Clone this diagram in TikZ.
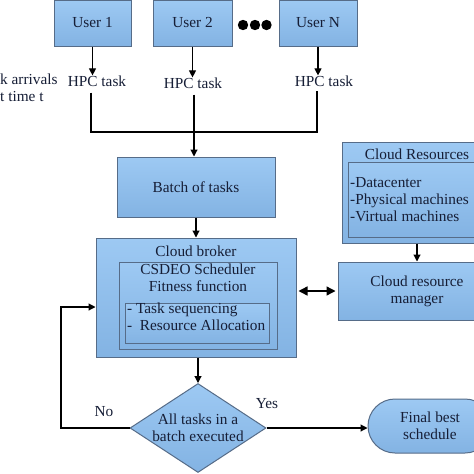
\documentclass[tikz,border=0pt]{standalone}
\usepackage{fontspec}
\setmainfont{Liberation Serif}
\usetikzlibrary{arrows.meta,shapes.geometric}
\definecolor{btop}{HTML}{9DC9F3}
\definecolor{bbot}{HTML}{83B3E3}
\definecolor{bline}{HTML}{566C88}
\definecolor{txt}{HTML}{161E36}
\tikzset{
  blk/.style={draw=bline, line width=1pt, top color=btop, bottom color=bbot, inner sep=0pt, text=txt, font=\fontsize{15.3}{16.8}\selectfont, align=center},
  plain/.style={inner sep=0pt, text=txt, font=\fontsize{15.3}{16.8}\selectfont, align=center},
  arr/.style={line width=1.1pt, -{Triangle[length=7pt,width=7pt]}},
  ln/.style={line width=1.1pt},
  dbl/.style={line width=1.4pt, {Triangle[length=9pt,width=9pt]}-{Triangle[length=9pt,width=9pt]}},
}
\begin{document}
\begin{tikzpicture}[x=1pt,y=-1pt]
\useasboundingbox (0,0) rectangle (474,474);
\clip (0,0) rectangle (474,474);
\fill[white] (0,0) rectangle (474,474);
% users
\node[blk, minimum width=77pt, minimum height=46pt] (u1) at (92.5,23) {User 1};
\node[blk, minimum width=79pt, minimum height=46pt] (u2) at (192.5,23) {User 2};
\node[blk, minimum width=78pt, minimum height=46pt] (uN) at (318,23) {User N};
\fill[black] (243,25) circle (5.2) (255,25) circle (5.2) (266.5,25) circle (5.2);
% HPC tasks
\node[plain] (h1) at (97,81) {HPC task};
\node[plain] (h2) at (193,83) {HPC task};
\node[plain] (hN) at (324,81) {HPC task};
\node[plain, anchor=west, align=left] (arrv) at (0,88) {k arrivals\\t time t};
\draw[arr] (u1.south) -- (u1.south |- h1.north);
\draw[arr] (u2.south) -- (u2.south |- h2.north);
\draw[arr] (uN.south) -- (uN.south |- hN.north);
\coordinate (jn) at (194,132);
\draw[ln] ([yshift=-6pt]h1.south -| 91,0) -- (91,132) -- (317,132) -- ([yshift=-4pt]hN.south -| 317,0);
\draw[ln] ([yshift=-6pt]h2.south -| jn) -- (jn);
% batch
\node[blk, minimum width=158pt, minimum height=60pt] (batch) at (196,187) {Batch of tasks};
\draw[arr] (jn) -- (jn |- batch.north);
% broker
\node[blk, minimum width=200pt, minimum height=119pt] (broker) at (196,297.5) {};
\node[plain] (brt) at (196,251) {Cloud broker};
\node[blk, minimum width=158pt, minimum height=87pt] (csd) at (198,305.5) {};
\node[plain] (csdt) at (198,278) {CSDEO Scheduler\\Fitness function};
\node[blk, minimum width=144pt, minimum height=40pt] (inner) at (197,323) {};
\node[plain, anchor=west, align=left] (innt) at (127,317) {- Task sequencing\\-\ \ Resource Allocation};
\draw[arr] (batch.south -| 196,0) -- (broker.north);
% cloud resources
\node[blk, minimum width=150pt, minimum height=101pt] (res) at (417,192.5) {};
\node[plain] (rest) at (417,154) {Cloud Resources};
\node[blk, minimum width=128pt, minimum height=75pt] (resin) at (412,199.5) {};
\node[plain, anchor=west, align=left] (resint) at (350,199.5) {-Datacenter\\-Physical machines\\-Virtual machines};
% manager
\node[blk, minimum width=158pt, minimum height=58pt] (mgr) at (417,291) {Cloud resource\\manager};
\draw[arr] (res.south) -- (mgr.north);
\draw[dbl] ([xshift=2pt]broker.east |- mgr) -- ([xshift=-2pt]mgr.west);
% decision
\node[diamond, draw=bline, line width=1pt, top color=btop, bottom color=bbot, minimum width=136pt, minimum height=89pt, inner sep=0pt] (dec) at (198,428) {};
\node[plain] (dect) at (dec) {All tasks in a\\batch executed};
\draw[arr] (dec.north |- broker.south) -- (dec.north);
% final
\node[blk, rounded corners=27pt, minimum width=124pt, minimum height=54pt] (fin) at (430,426) {Final best\\schedule};
\draw[arr] (dec.east) -- (dec.east -| fin.west);
\node[plain] (yes) at (267,404) {Yes};
\node[plain] (no) at (104,412) {No};
\coordinate (nl) at (61,307);
\draw[arr] (dec.west) -| (nl) -- (nl -| broker.west);
\end{tikzpicture}
\end{document}
